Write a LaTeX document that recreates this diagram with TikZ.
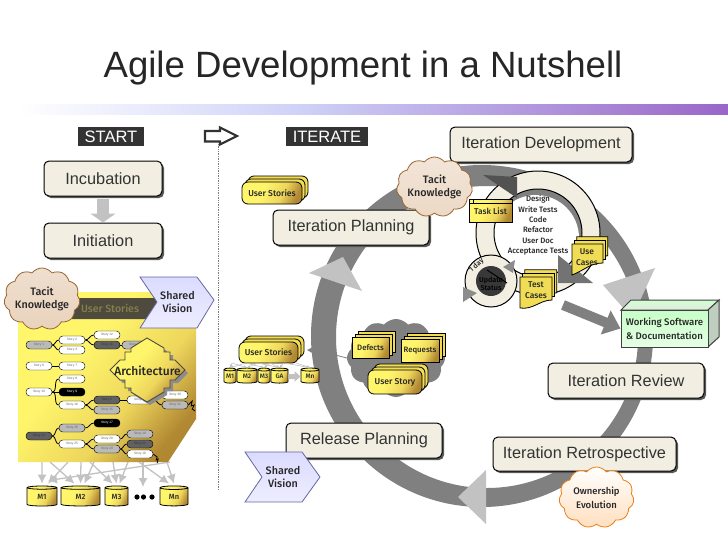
\documentclass[tikz,border=0pt]{standalone}
\usepackage{fontspec}
\setmainfont{Liberation Sans}
\newfontfamily\comicfont[UprightFont=* Medium]{Fira Sans}
\usetikzlibrary{shapes.geometric, shapes.symbols, shadows, arrows.meta}

\definecolor{creamfill}{HTML}{F2EFE2}
\definecolor{ringgray}{HTML}{808080}
\definecolor{lightarrow}{HTML}{C2C2C2}
\definecolor{stackyellow}{HTML}{F0DC55}
\pgfdeclarehorizontalshading{yellowfade}{100bp}{rgb(0bp)=(1,.97,.42);rgb(40bp)=(1,.96,.42);rgb(60bp)=(.93,.84,.36);rgb(75bp)=(.7,.54,.2);rgb(100bp)=(.62,.47,.16)}
\pgfdeclarehorizontalshading{bandfade}{100bp}{rgb(0bp)=(1,1,1);rgb(25bp)=(1,1,1);rgb(45bp)=(.81,.82,.97);rgb(75bp)=(.6,.4,.78);rgb(100bp)=(.6,.4,.78)}

\tikzset{
  phasebox/.style={draw=black, line width=1pt, fill=creamfill, rounded corners=5pt, inner sep=0pt, text=black!80,
    font=\fontsize{16.3}{17}\selectfont, drop shadow={shadow xshift=2pt, shadow yshift=-2pt, fill=black!65, opacity=1}},
  tagbox/.style={fill=black!80, text=white, inner sep=0pt, minimum height=19pt, font=\fontsize{16.5}{17}\selectfont},
  comic/.style={font=\comicfont\fontsize{#1}{#1}\selectfont, text=black!85},
  comic/.default=9,
  story/.style={draw=black, rounded corners=3.8pt, minimum width=26pt, minimum height=8pt, inner sep=0pt, font=\fontsize{3.2}{3.2}\selectfont},
  storyw/.style={story, fill=white, text=black!60},
  storyg/.style={story, fill=black!27, text=black!60},
  storyd/.style={story, fill=black!62, text=black!80},
  storyb/.style={story, fill=black, text=white},
  storyline/.style={draw=black, line width=.8pt},
  depends/.style={draw=lightarrow, line width=1.3pt, -{Latex[length=9pt,width=9pt]}},
  depsmall/.style={draw=lightarrow, line width=.6pt, -{Latex[length=3pt,width=3pt]}},
  can/.style={cylinder, shape border rotate=90, aspect=.35, draw=black, line width=.8pt, shade, shading=yellowfade, shading angle=-25, inner sep=0pt, comic=#1},
  can/.default=7.5,
  thought/.style={cloud, cloud puffs=11, cloud puff arc=105, aspect=1.2, inner sep=0pt, line width=.8pt},
  thoughttext/.style={align=center, inner sep=0pt, comic=10.8},
  vision/.style={draw=blue!40!black!60, line width=.8pt, top color=blue!14, bottom color=blue!7},
  stackrect/.style={draw=black, line width=.8pt, shade, shading=yellowfade, shading angle=-25, inner sep=0pt, comic=7.8,
    double copy shadow={shadow xshift=3pt, shadow yshift=3pt, fill=stackyellow, draw=black, opacity=1}},
  stackround/.style={stackrect, rounded corners=6pt},
  docpage/.style={draw=black, line width=.8pt, fill=stackyellow},
}

\begin{document}
\begin{tikzpicture}[x=1pt, y=-1pt]
\useasboundingbox (0,0) rectangle (728,546);
\fill[white] (0,0) rectangle (728,546);
\node[font=\fontsize{36.6}{37}\selectfont, text=black!85, inner sep=0pt] (title) at (363,68) {Agile Development in a Nutshell};
\path[shading=bandfade] (18,104) rectangle (728,114);

\node[tagbox, minimum width=66pt] (start) at (111,136.5) {START};
\node[tagbox, minimum width=82pt] (iterate) at (327,136.5) {ITERATE};
\draw[black!80, line width=2.2pt, fill=white] (205,131)--(220,131)--(220,127.5)--(237,136)--(220,144.5)--(220,141.5)--(205,141.5)--cycle;
\draw[black!50, line width=.7pt, densely dotted] (218.5,144)--(218.5,490);

% big ring
\fill[ringgray, even odd rule] (482,336) circle (171) (487,337) circle (151);
\fill[lightarrow] (343,257)--(309,273)--(362,291)--cycle;
\fill[lightarrow] (458,497)--(486,470)--(486,524)--cycle;
\fill[lightarrow] (603,285)--(655,268)--(632,318)--cycle;

% start column
\node[phasebox, minimum width=118pt, minimum height=35pt] (incubation) at (103,178.5) {Incubation};
\node[phasebox, minimum width=118pt, minimum height=35pt] (initiation) at (103,240.5) {Initiation};
\draw[lightarrow, line width=12pt, -{Triangle[length=9pt,width=25pt]}] ([yshift=-2pt]incubation.south) -- (initiation.north);

% story board
\foreach \nm/\sx in {d1/42,d2/50,d3/68,d4/81,d5/94,d6/90,d7/113,d8/128,d9/139,d10/143,d11/167,d12/170}
  \coordinate (\nm) at (\sx,462);
\node[can, minimum width=30pt, minimum height=20pt] (m1) at (42,497) {M1};
\node[can, minimum width=39pt, minimum height=20pt] (m2) at (80.5,497) {M2};
\node[can, minimum width=23pt, minimum height=20pt] (m3) at (116.5,497) {M3};
\node[can, minimum width=28pt, minimum height=20pt] (mn) at (174,497) {Mn};
\coordinate (mdots) at (143,487);
\foreach \a/\b/\dx in {d1/m1/0,d3/m1/6,d2/m2/-6,d4/m2/0,d5/m2/4,d6/m3/-4,d7/m3/0,d8/m3/3,d9/mn/-5,d11/mn/0}
  \draw[depends] (\a) -- ([xshift=\dx pt,yshift=2pt]\b.north);
\draw[depends] (d12) -- ([xshift=6pt,yshift=5pt]m1.north);
\draw[depends] (d10) -- (mdots);
\foreach \sx in {137,143.5,152}
  \fill[black] (\sx,497) circle (2.6);
\path[shade, shading=yellowfade, shading angle=-40] (18,292)--(196,292)--(196,419)--(168,462)--(18,462)--cycle;

\foreach \nm/\sx/\sy/\sty/\txt in {
  s1/39/345/storyg/Story 1, s2/72/340/storyw/Story 2, s3/72/350/storyw/Story 3, s12/107/335/storyw/Story 12,
  s11/107/345/storyd/Story 11, s13/135/345/storyg/Story 13, s6/39/366/storyw/Story 6, s7/72/366/storyw/Story 7,
  s8/72/379/storyw/Story 8, s10/39/392/storyw/Story 10, s9/72/392/storyb/Story 9, s16/72/405/storyw/Story 16,
  s5/107/400/storyd/Story 5, s15/107/410/storyg/Story 15, s28/140/400/storyw/Story 28, s30/175/395/storyw/Story 30,
  s31/175/405/storyg/Story 31, s17/107/423/storyb/Story 17, s26/72/428/storyg/Story 26, s24/39/436/storyd/Story 24,
  s25/72/444/storyw/Story 25, s20/107/439/storyw/Story 20, s29/107/449/storyg/Story 29, s19/140/434/storyg/Story 19,
  s21/140/444/storyd/Story 21, s18/140/454/storyw/Story 18}
  \node[\sty] (\nm) at (\sx,\sy) {\txt};
\foreach \a/\b in {s1/s2,s1/s3,s2/s12,s2/s11,s11/s13,s6/s7,s10/s8,s10/s9,s10/s16,s16/s5,s16/s15,s5/s28,s28/s30,s28/s31,
  s24/s26,s24/s25,s26/s17,s25/s20,s25/s29,s20/s19,s29/s21,s29/s18}
  \draw[storyline] (\a.east) to[out=0,in=180] (\b.west);
\draw[storyline] (s31.east) -- ++(4,-4) -- ++(-1,5) -- ++(3,-1) -- ++(-2,4) -- ++(3,2);
\draw[storyline] (s18.east) -- ++(4,3) -- ++(-1,3) -- ++(2,-1) -- ++(-1,4);

\fill[black!45, shift={(3,3)}] (147,338)--(164,348)--(164,352)--(170,352)--(170,360)--(175,360)--(185,370)--(175,380)--(170,380)--(170,388)--(164,388)--(164,392)--(147,402)--(131,392)--(131,388)--(125,388)--(125,380)--(120,380)--(110,370)--(120,360)--(125,360)--(125,352)--(131,352)--(131,348)--cycle;
\draw[black!80!yellow, line width=.9pt, shade, shading=yellowfade, shading angle=-40] (147,338)--(164,348)--(164,352)--(170,352)--(170,360)--(175,360)--(185,370)--(175,380)--(170,380)--(170,388)--(164,388)--(164,392)--(147,402)--(131,392)--(131,388)--(125,388)--(125,380)--(120,380)--(110,370)--(120,360)--(125,360)--(125,352)--(131,352)--(131,348)--cycle;
\node[comic=12, inner sep=0pt] (architecture) at (147.5,370.5) {Architecture};

\fill[black!50!yellow!40!black] (72,298)--(160,298)--(150,319)--(72,319)--cycle;
\node[comic=10.5, text=yellow!45!black, inner sep=0pt] (stories) at (110,308.5) {User Stories};
\node[thought, draw=brown!80!black, top color=brown!25, middle color=white, bottom color=brown!35, minimum width=76pt, minimum height=62pt] (cloudtacita) at (42,299) {};
\node[thoughttext] (tacita) at (cloudtacita) {Tacit\\[2pt]Knowledge};
\draw[vision] (140,277)--(197,277)--(214,300)--(197,328)--(140,328)--(157,302)--cycle;
\node[comic=10.8, align=center, inner sep=0pt] (visiona) at (177.5,302) {Shared\\[3pt]Vision};

% iterate column
\node[stackround, minimum width=60pt, minimum height=22pt, comic=8.6] (stories1) at (272,193) {User Stories};
\node[phasebox, minimum width=156pt, minimum height=35pt] (planning) at (351,227.5) {Iteration Planning};
\node[phasebox, minimum width=182pt, minimum height=35pt] (development) at (541,144.5) {Iteration Development};
\node[phasebox, minimum width=156pt, minimum height=35pt] (review) at (626,380.5) {Iteration Review};
\node[phasebox, minimum width=156pt, minimum height=35pt] (release) at (364,440.5) {Release Planning};
\node[phasebox, minimum width=183pt, minimum height=34pt] (retro) at (584.5,454) {Iteration Retrospective};

% development ring
\fill[ringgray] (538,233) circle (44);
\fill[white] (536,238) circle (43);
\draw[black, line width=1pt, fill=creamfill, even odd rule] (538,233) circle (62) (538,233) circle (44);
\fill[black!68] (483,175)--(517,177)--(517,198)--cycle;
\fill[black!55] (558,255)--(558,283)--(593,283)--cycle;
\node[align=center, font=\comicfont\fontsize{7.8}{10.4}\selectfont, text=black!85, inner sep=0pt] (tasks) at (538,225.5) {Design\\Write Tests\\Code\\Refactor\\User Doc\\Acceptance Tests};
\node[thought, draw=brown!80!black, top color=brown!20, middle color=white, bottom color=brown!30, minimum width=76pt, minimum height=60pt] (cloudtacitb) at (434.5,187) {};
\node[thoughttext] (tacitb) at (cloudtacitb) {Tacit\\[2pt]Knowledge};

\draw[black, line width=.8pt, shade, shading=yellowfade, shading angle=-25] (469,199) rectangle (512,222);
\draw[black, line width=.8pt] (469,203)--(512,203) (473,199)--(473,203);
\node[comic=8.4, inner sep=0pt] (tasklist) at (490.5,211) {Task List};

\draw[black, line width=1pt, fill=creamfill] (491,281) circle (26);
\fill[black!45] (463,287)--(463,302)--(477,293)--cycle;
\fill[black!45] (503,267)--(515,260)--(513,273)--cycle;
\fill[black!78] (491,281) circle (15);
\draw[black, line width=1pt] (487,270)--(507,283);
\node[comic=7.2, rotate=42, inner sep=0pt] (oneday) at (476.5,265.5) {1 day};
\node[align=center, comic=7.2, text=black, inner sep=0pt] (status) at (491,284) {Update\\[1pt]Status};

\foreach \d in {8,4,0}
  \draw[docpage, shift={(\d*.6,-\d*.9)}] (572,244)--(603,244)--(603,263) .. controls (590,263) and (585,270) .. (572,275)--cycle;
\node[comic=8.4, align=center, inner sep=0pt] (usecases) at (587,257) {Use\\[3pt]Cases};
\foreach \d in {8,4,0}
  \draw[docpage, shift={(\d*.6,-\d*.9)}] (520,277)--(552,277)--(552,300) .. controls (540,300) and (533,310) .. (520,308)--cycle;
\node[comic=8.4, align=center, inner sep=0pt] (testcases) at (536,290) {Test\\[3pt]Cases};

% working software
\draw[black!75, line width=1pt, top color=green!18, bottom color=green!32!black!12] (621,310)--(631,300)--(719,300)--(708,310)--cycle;
\draw[black!75, line width=1pt, fill=green!25!black!25] (708,310)--(719,300)--(719,337)--(708,347)--cycle;
\node[draw=black!75, line width=1pt, top color=green!22, bottom color=green!10, minimum width=87pt, minimum height=37pt, inner sep=0pt, align=center, comic=9.6] (software) at (664.5,328.5) {Working Software\\[3pt]\& Documentation};
\coordinate (testout) at (563,305);
\draw[ringgray, line width=10pt, -{Triangle[length=16pt,width=25pt]}] (testout) -- (software.west);

% release inputs
\node[cloud, cloud puffs=12, cloud puff arc=100, aspect=1.25, fill=ringgray, minimum width=98pt, minimum height=78pt] (backlog) at (396,358) {};
\fill[ringgray] (307,350)--(321,343)--(321,358)--cycle;
\coordinate (ringin) at (320,351);
\draw[ringgray, line width=.8pt] (backlog.west) -- (ringin);
\node[stackrect, minimum width=37pt, minimum height=21pt] (defects) at (370.5,347.5) {Defects};
\node[stackrect, minimum width=38pt, minimum height=23pt, shading angle=-25] (requests) at (420,350.5) {Requests};
\node[stackround, minimum width=54pt, minimum height=24pt, comic=8.6] (userstory) at (395,382) {User Story};
\node[stackround, minimum width=59pt, minimum height=21pt, comic=8.6] (stories2) at (268.5,352.5) {User Stories};
\node[can=6.5, minimum width=12pt, minimum height=15pt] (sm1) at (230,376.5) {M1};
\node[can=6.5, minimum width=20pt, minimum height=15pt] (sm2) at (247,376.5) {M2};
\node[can=6.5, minimum width=12pt, minimum height=15pt] (sm3) at (264,376.5) {M3};
\node[can=6.5, minimum width=17pt, minimum height=15pt] (sga) at (279.5,376.5) {GA};
\node[can=6.5, minimum width=18pt, minimum height=15pt] (smn) at (310,376.5) {Mn};
\draw[lightarrow, line width=5pt, -{Triangle[length=6pt,width=10pt]}] (sga.east) -- (smn.west);
\foreach \nm/\sx in {u1/232,u2/246,u3/258,u4/270,u5/284,u6/296}
  \coordinate (\nm) at (\sx,363);
\foreach \a/\b in {u1/sm1,u1/sm2,u2/sm1,u2/sm3,u3/sm2,u3/sga,u4/sm3,u4/sga,u5/sga,u6/smn,u5/smn}
  \draw[depsmall] (\a) -- (\b.north);

\draw[vision] (245,452)--(302,452)--(320,477)--(302,502)--(245,502)--(262,477)--cycle;
\node[comic=10.8, align=center, inner sep=0pt] (visionb) at (283,477) {Shared\\[3pt]Vision};
\node[thought, draw=orange!70!brown, top color=white, bottom color=orange!25, minimum width=75pt, minimum height=61pt] (cloudowner) at (596.5,497.5) {};
\node[thoughttext, comic=9.5] (ownership) at (cloudowner) {Ownership\\[3pt]Evolution};
\end{tikzpicture}
\end{document}
